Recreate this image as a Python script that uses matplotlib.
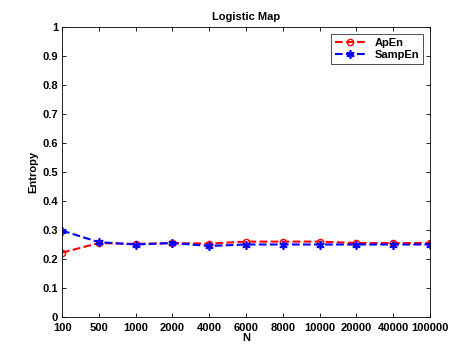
import matplotlib
matplotlib.use("Agg")
import matplotlib.pyplot as plt

n_labels = ['100', '500', '1000', '2000', '4000', '6000', '8000', '10000', '20000', '40000', '100000']
apen = [0.222, 0.255, 0.252, 0.255, 0.253, 0.260, 0.260, 0.260, 0.255, 0.255, 0.255]
sampen = [0.298, 0.258, 0.250, 0.255, 0.245, 0.250, 0.250, 0.250, 0.250, 0.250, 0.250]

plt.rcParams['font.family'] = ['Liberation Sans', 'DejaVu Sans']
plt.rcParams['font.weight'] = 'bold'

fig = plt.figure(figsize=(4.74, 3.55), dpi=100)
ax = fig.add_axes([0.131, 0.107, 0.776, 0.817])

x = list(range(1, len(n_labels) + 1))
ax.plot(x, apen, 'r--', marker='o', lw=1.5, ms=4.5, mfc='none', mew=1, label='ApEn')
ax.plot(x, sampen, 'b--', marker=(6, 2, 0), lw=1.5, ms=6, mew=1.2, label='SampEn')

ax.set_xlim(1, len(n_labels))
ax.set_ylim(0, 1)
ax.set_xticks(x)
ax.set_xticklabels(n_labels)
ax.set_yticks([i / 10 for i in range(11)])
ax.set_yticklabels(['0', '0.1', '0.2', '0.3', '0.4', '0.5', '0.6', '0.7', '0.8', '0.9', '1'])
ax.tick_params(direction='in', top=True, right=True, labelsize=8, length=3, width=0.6)
ax.tick_params(axis='x', pad=4)
ax.tick_params(axis='y', pad=3)
for s in ax.spines.values():
    s.set_linewidth(0.6)

ax.set_xlabel('N', fontsize=8, fontweight='bold', labelpad=0)
ax.set_ylabel('Entropy', fontsize=8, fontweight='bold', labelpad=3)
ax.set_title('Logistic Map', fontsize=8, fontweight='bold', pad=5)

leg = ax.legend(loc='upper right', fontsize=8, fancybox=False, edgecolor='black',
                borderaxespad=0.6, handlelength=2.8, labelspacing=0.25, borderpad=0.35)
leg.get_frame().set_linewidth(0.6)

fig.savefig('out.png', dpi=100)
